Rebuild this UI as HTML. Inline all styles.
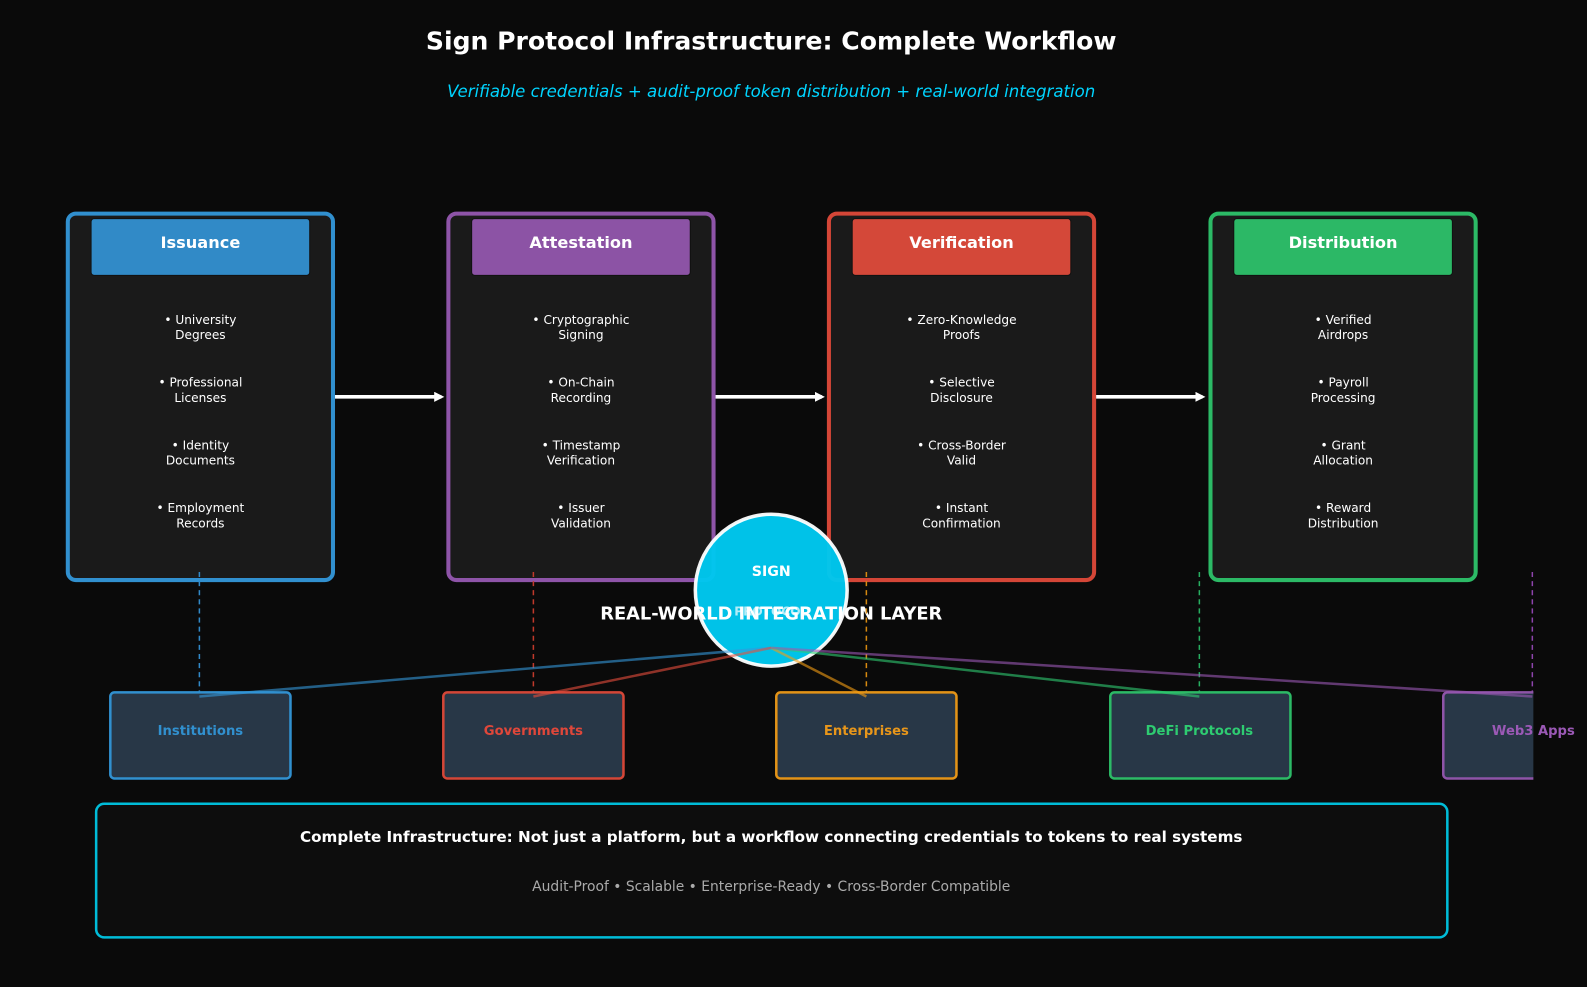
<!DOCTYPE html>
<html><head><meta charset="utf-8"><style>
html,body{margin:0;padding:0;background:#0a0a0a;}
svg{display:block;font-family:"DejaVu Sans","Liberation Sans",sans-serif;}
</style></head><body>
<svg width="1587" height="987" viewBox="0 0 1568 975" preserveAspectRatio="none" xmlns="http://www.w3.org/2000/svg">
<defs>
<clipPath id="c"><rect x="0" y="0" width="1515" height="975"/></clipPath>
<marker id="ah" markerWidth="10" markerHeight="10" refX="7" refY="5" orient="auto" markerUnits="userSpaceOnUse"><path d="M0,0 L10,5 L0,10 Z" fill="#fff"/></marker>
</defs>
<rect width="1568" height="975" fill="#0a0a0a"/>
<text x="762" y="49" text-anchor="middle" fill="#fff" font-size="24.8" font-weight="bold">Sign Protocol Infrastructure: Complete Workflow</text>
<text x="762" y="96" text-anchor="middle" fill="#00d4ff" font-size="16.4" font-style="italic">Verifiable credentials + audit-proof token distribution + real-world integration</text>

<g clip-path="url(#c)">
<g stroke-width="4">
<rect x="67" y="211" width="262" height="362" rx="8" fill="#1a1a1a" stroke="#3190cf"/>
<rect x="443" y="211" width="262" height="362" rx="8" fill="#1a1a1a" stroke="#8e54a8"/>
<rect x="819" y="211" width="262" height="362" rx="8" fill="#1a1a1a" stroke="#d44637"/>
<rect x="1196" y="211" width="262" height="362" rx="8" fill="#1a1a1a" stroke="#2cba66"/>
</g>
<g stroke="#111" stroke-width="1">
<rect x="90" y="216" width="216" height="56" rx="3" fill="#318ac7"/>
<rect x="466" y="216" width="216" height="56" rx="3" fill="#8c53a5"/>
<rect x="842" y="216" width="216" height="56" rx="3" fill="#d44839"/>
<rect x="1219" y="216" width="216" height="56" rx="3" fill="#2cb866"/>
</g>
<g fill="#fff" font-size="16" font-weight="bold" text-anchor="middle">
<text x="198" y="245">Issuance</text>
<text x="574" y="245">Attestation</text>
<text x="950" y="245">Verification</text>
<text x="1327" y="245">Distribution</text>
</g>
<g fill="#fff" font-size="12" text-anchor="middle">
<text x="198" y="320">• University</text><text x="198" y="335">Degrees</text>
<text x="198" y="382">• Professional</text><text x="198" y="397">Licenses</text>
<text x="198" y="444">• Identity</text><text x="198" y="459">Documents</text>
<text x="198" y="506">• Employment</text><text x="198" y="521">Records</text>
<text x="574" y="320">• Cryptographic</text><text x="574" y="335">Signing</text>
<text x="574" y="382">• On-Chain</text><text x="574" y="397">Recording</text>
<text x="574" y="444">• Timestamp</text><text x="574" y="459">Verification</text>
<text x="574" y="506">• Issuer</text><text x="574" y="521">Validation</text>
<text x="950" y="320">• Zero-Knowledge</text><text x="950" y="335">Proofs</text>
<text x="950" y="382">• Selective</text><text x="950" y="397">Disclosure</text>
<text x="950" y="444">• Cross-Border</text><text x="950" y="459">Valid</text>
<text x="950" y="506">• Instant</text><text x="950" y="521">Confirmation</text>
<text x="1327" y="320">• Verified</text><text x="1327" y="335">Airdrops</text>
<text x="1327" y="382">• Payroll</text><text x="1327" y="397">Processing</text>
<text x="1327" y="444">• Grant</text><text x="1327" y="459">Allocation</text>
<text x="1327" y="506">• Reward</text><text x="1327" y="521">Distribution</text>
</g>
<g stroke="#fff" stroke-width="3.5" marker-end="url(#ah)">
<line x1="331" y1="392" x2="436" y2="392"/>
<line x1="707" y1="392" x2="812" y2="392"/>
<line x1="1083" y1="392" x2="1188" y2="392"/>
</g>
<circle cx="762" cy="583" r="75" fill="#00c8f0" fill-opacity="0.97" stroke="#fff" stroke-width="3.5" stroke-opacity="0.95"/>
<text x="762" y="569" text-anchor="middle" fill="#fff" font-size="14" font-weight="bold">SIGN</text>
<text x="762" y="608" text-anchor="middle" fill="#fff" fill-opacity="0.7" font-size="12" font-weight="bold">PROTOCOL</text>
<text x="762" y="612" text-anchor="middle" fill="#fff" font-size="17.6" font-weight="bold">REAL-WORLD INTEGRATION LAYER</text>
<g stroke-width="1.5" stroke-dasharray="5,4">
<line x1="197" y1="565" x2="197" y2="688" stroke="#3189c8"/>
<line x1="527" y1="565" x2="527" y2="688" stroke="#c0392b"/>
<line x1="856" y1="565" x2="856" y2="688" stroke="#d68910"/>
<line x1="1185" y1="565" x2="1185" y2="688" stroke="#27ae60"/>
<line x1="1514" y1="565" x2="1514" y2="688" stroke="#8e44ad"/>
</g>
<g stroke-width="2.5" fill="#283747">
<rect x="109" y="684" width="178" height="85" rx="4" stroke="#3190cf"/>
<rect x="438" y="684" width="178" height="85" rx="4" stroke="#d44637"/>
<rect x="767" y="684" width="178" height="85" rx="4" stroke="#e39317"/>
<rect x="1097" y="684" width="178" height="85" rx="4" stroke="#2cba66"/>
<rect x="1426" y="684" width="178" height="85" rx="4" stroke="#8e54a8"/>
</g>
<g font-size="13" font-weight="bold" text-anchor="middle">
<text x="198" y="726" fill="#3190cf">Institutions</text>
<text x="527" y="726" fill="#e0473a">Governments</text>
<text x="856" y="726" fill="#e8961a">Enterprises</text>
<text x="1185" y="726" fill="#2ecc71">DeFi Protocols</text>
</g>
<g stroke-width="2.5" fill="none" stroke-opacity="0.6">
<line x1="762" y1="640" x2="197" y2="688" stroke="#3498db"/>
<line x1="762" y1="640" x2="527" y2="688" stroke="#e74c3c"/>
<line x1="762" y1="640" x2="856" y2="688" stroke="#f39c12"/>
<line x1="762" y1="640" x2="1185" y2="688" stroke="#2ecc71"/>
<line x1="762" y1="640" x2="1514" y2="688" stroke="#9b59b6"/>
</g>
</g>
<text x="1515" y="726" text-anchor="middle" fill="#9b59b6" font-size="13" font-weight="bold">Web3 Apps</text>
<rect x="95" y="794" width="1335" height="132" rx="8" fill="#0d0d0d" stroke="#00bcd8" stroke-width="2.5"/>
<text x="762" y="832" text-anchor="middle" fill="#fff" font-size="15" font-weight="bold">Complete Infrastructure: Not just a platform, but a workflow connecting credentials to tokens to real systems</text>
<text x="762" y="880" text-anchor="middle" fill="#aaa" font-size="13.7">Audit-Proof • Scalable • Enterprise-Ready • Cross-Border Compatible</text>
</svg>
</body></html>
